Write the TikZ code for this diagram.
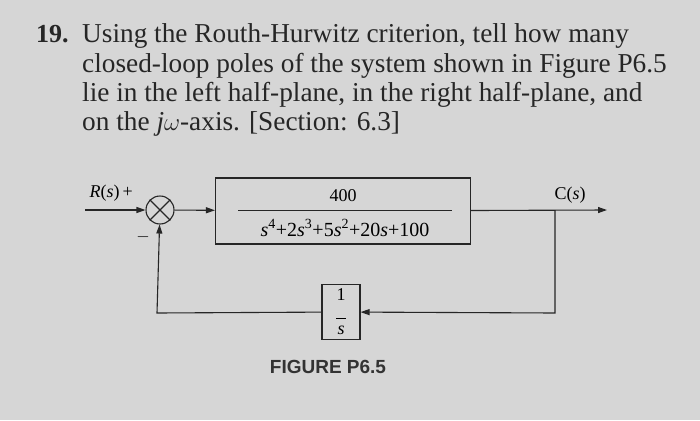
\documentclass[tikz,border=0pt]{standalone}
\usepackage{fontspec}
\setmainfont{Liberation Serif}
\setsansfont{Liberation Sans}
\usetikzlibrary{arrows.meta}
\newcommand{\sv}{\textit{s}}
\begin{document}
\begin{tikzpicture}[x=1pt,y=-1pt,
  wire/.style={line width=1.1pt,black!85},
  arr/.style={wire,-{Triangle[length=9pt,width=6pt]}},
  txt/.style={anchor=base west,inner sep=0pt,font=\fontsize{27.3}{32}\selectfont,text=black!85}]
\fill[black!16] (0,0) rectangle (700,420);
\useasboundingbox (0,0) rectangle (700,420);
\node[txt,font=\fontsize{26}{30}\selectfont\bfseries] (num) at (36,43) {19.};
\node[txt] (l1) at (82,43) {Using the Routh-Hurwitz criterion, tell how many};
\node[txt] (l2) at (82,72) {closed-loop poles of the system shown in Figure P6.5};
\node[txt] (l3) at (82,101) {lie in the left half-plane, in the right half-plane, and};
\node[txt] (l4) at (82,130) {on the \textit{j$\omega$}-axis. [Section: 6.3]};
% diagram
\coordinate (in) at (85,210);
\node[draw,circle,wire,minimum size=28pt,inner sep=0pt] (sum) at (160,210) {};
\draw[wire] (sum.45) -- (sum.225) (sum.135) -- (sum.315);
\node[draw,wire,minimum width=255pt,minimum height=66pt,inner sep=0pt] (G) at (343,211) {};
\node[font=\fontsize{18}{20}\selectfont] (gn) at (343,196) {400};
\draw[wire,line width=0.8pt] (238,210) -- (452,210);
\node[font=\fontsize{20}{22}\selectfont] (gd) at (345,228) {\sv\textsuperscript{4}+2\sv\textsuperscript{3}+5\sv\textsuperscript{2}+20\sv+100};
\coordinate (out) at (607,210);
\coordinate (tap) at (555,210);
\node[draw,wire,minimum width=38pt,minimum height=55pt,inner sep=0pt] (H) at (341,312) {};
\node[font=\fontsize{18}{20}\selectfont,align=center,inner sep=0pt] (hf) at (341,312) {1\\[-2pt]\rule{10pt}{0.6pt}\\[-4pt]\sv};
\coordinate (c1) at (555,313);
\coordinate (c2) at (157,313);
\draw[arr] (in) -- (sum);
\draw[arr] (sum) -- (G);
\draw[arr] (G) -- (out);
\draw[arr] (tap) -- (c1) -- (H);
\draw[arr] (H) -- (c2) -- (sum);
\node[font=\fontsize{18}{20}\selectfont,anchor=base west] (R) at (86,197) {\textit{R}(\textit{s})\,+};
\node[font=\fontsize{18}{20}\selectfont,anchor=base west] (C) at (551,199) {C(\textit{s})};
\node[font=\fontsize{18}{20}\selectfont] (minus) at (143,237) {$-$};
\node[font=\sffamily\bfseries\fontsize{19}{21}\selectfont,text=black!80] (fig) at (328,367) {FIGURE P6.5};
\end{tikzpicture}
\end{document}
